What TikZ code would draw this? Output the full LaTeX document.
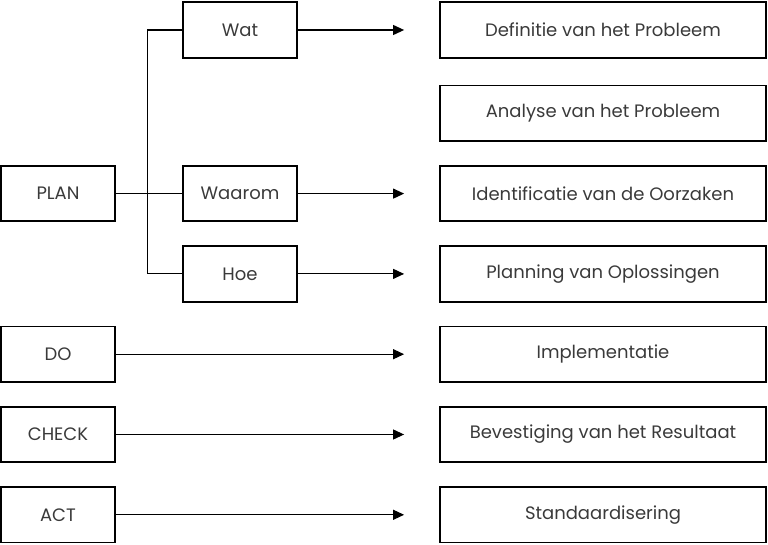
\documentclass[tikz,border=0pt]{standalone}
\usepackage{fontspec}
\setmainfont{Poppins}
\usetikzlibrary{positioning,arrows.meta}
\definecolor{txt}{HTML}{3A3A3A}
\tikzset{
  box/.style={draw,line width=1.8pt,minimum height=55.5pt,inner sep=0pt,align=center,text=txt,font=\fontsize{18}{21}\selectfont},
  stage/.style={box,minimum width=114pt},
  sub/.style={box,minimum width=114pt},
  res/.style={box,minimum width=326pt},
  lnk/.style={line width=1.1pt},
  arr/.style={lnk,-{Triangle[length=11pt,width=10pt]},shorten >=35pt}
}
\begin{document}
\begin{tikzpicture}[x=1pt,y=1pt]
  \useasboundingbox (0,0) rectangle (768,-545);
  % right column
  \node[res] (def) at (603,-30) {Definitie van het Probleem};
  \node[res,below=26pt of def] (ana) {Analyse van het Probleem};
  \node[res,below=23pt of ana] (ident) {Identificatie van de Oorzaken};
  \node[res,below=23pt of ident] (planning) {Planning van Oplossingen};
  \node[res,below=23pt of planning] (impl) {Implementatie};
  \node[res,below=23pt of impl] (bev) {Bevestiging van het Resultaat};
  \node[res,below=23pt of bev] (std) {Standaardisering};
  % middle column
  \node[sub] (wat) at (240,-30) {Wat};
  \node[sub] (waarom) at (wat |- ident) {Waarom};
  \node[sub] (hoe) at (wat |- planning) {Hoe};
  % left column
  \node[stage] (plan) at (58,0 |- waarom) {PLAN};
  \node[stage] (do) at (58,0 |- impl) {DO};
  \node[stage] (check) at (58,0 |- bev) {CHECK};
  \node[stage] (act) at (58,0 |- std) {ACT};
  % tree
  \draw[lnk] (plan) -- (waarom);
  \draw[lnk] (wat.west) -- ++(-35,0) |- (hoe.west);
  % arrows
  \draw[arr] (wat) -- (def);
  \draw[arr] (waarom) -- (ident);
  \draw[arr] (hoe) -- (planning);
  \draw[arr] (do) -- (impl);
  \draw[arr] (check) -- (bev);
  \draw[arr] (act) -- (std);
\end{tikzpicture}
\end{document}
